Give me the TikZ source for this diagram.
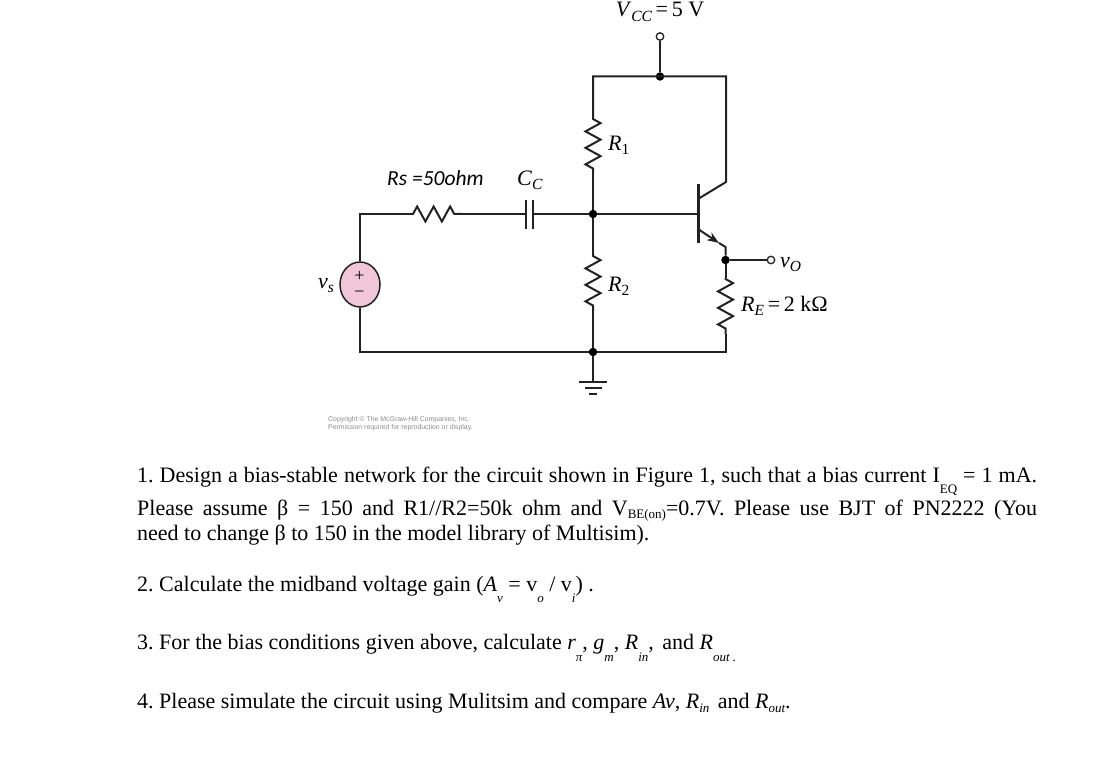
\documentclass[tikz,border=0pt]{standalone}
\usepackage{fontspec}
\setmainfont{Liberation Serif}
\newfontfamily\notefont{Carlito}
\newfontfamily\smallfont{Liberation Sans}
\usetikzlibrary{arrows.meta,decorations.pathmorphing,shapes.geometric}
\definecolor{wirecol}{HTML}{222222}
\definecolor{srcpink}{HTML}{F0C6D8}
\def\lowsub#1#2{\raisebox{-#1pt}{\fontsize{13}{13}\selectfont #2}}
\def\labsub#1#2{\raisebox{-#1pt}{\fontsize{15.5}{15.5}\selectfont #2}}
\frenchspacing
\tikzset{
	wire/.style={draw=wirecol, line width=2pt},
	resistor/.style={wire, line join=miter, decorate, decoration={zigzag, amplitude=7.5pt, segment length=16.5pt, pre length=1pt, post length=1pt}},
	dotnode/.style={circle, fill=black, inner sep=0, minimum size=8.5pt},
	termnode/.style={circle, draw=wirecol, fill=white, line width=1.3pt, inner sep=0, minimum size=7.5pt},
	circuitlabel/.style={inner sep=0, font=\fontsize{22}{22}\selectfont},
	txtline/.style={anchor=base west, inner sep=0, font=\fontsize{22}{22}\selectfont}
}

\begin{document}
\begin{tikzpicture}[x=1pt, y=-1pt]
	\useasboundingbox (0,0) rectangle (1108,767);

	% junctions and terminals
	\node[termnode] (vcc) at (660,36.5) {};
	\node[dotnode] (top) at (660,76.5) {};
	\node[dotnode] (base) at (593,214) {};
	\node[dotnode] (bot) at (593,352) {};
	\node[dotnode] (emit) at (725.5,260) {};
	\node[termnode] (vout) at (771,260) {};
	\coordinate (topl) at (593,76.5);
	\coordinate (topr) at (726,76.5);
	\coordinate (r1a) at (593,118);
	\coordinate (r1b) at (593,173);
	\coordinate (r2a) at (593,255);
	\coordinate (r2b) at (593,311);
	\coordinate (rea) at (725.5,278);
	\coordinate (reb) at (725.5,334);
	\coordinate (botr) at (725.5,352);
	\coordinate (coll) at (726,182);
	\coordinate (collb) at (698,199);
	\coordinate (baseb) at (698,214);
	\coordinate (barup) at (698,184);
	\coordinate (bardn) at (698,243);
	\coordinate (emb) at (698,229);
	\coordinate (emtip) at (719,243);
	\coordinate (emc) at (725.5,247);
	\coordinate (srcl) at (360,214);
	\coordinate (srcb) at (360,352);
	\coordinate (rsa) at (412,214);
	\coordinate (rsb) at (462,214);
	\coordinate (capa) at (525.7,214);
	\coordinate (capb) at (533,214);
	\coordinate (gnd) at (593,382);

	% supply and resistors
	\draw[wire] (vcc) -- (top);
	\draw[wire] (r1a) -- (topl) -- (topr) -- (coll) -- (collb);
	\draw[resistor] (r1a) -- (r1b);
	\draw[wire] (r1b) -- (base);
	\draw[wire] (base) -- (r2a);
	\draw[resistor] (r2a) -- (r2b);
	\draw[wire] (r2b) -- (bot);
	\draw[wire] (emit) -- (rea);
	\draw[resistor] (rea) -- (reb);
	\draw[wire] (reb) -- (botr) -- (bot);
	\draw[wire] (emit) -- (vout);

	% transistor
	\draw[wire, line width=3pt] (barup) -- (bardn);
	\draw[wire] (base) -- (baseb);
	\draw[wire, -{Stealth[length=12pt, width=9pt]}] (emb) -- (emtip);
	\draw[wire] (emtip) -- (emc) -- (emit);

	% input branch
	\node[draw=wirecol, fill=srcpink, line width=1.5pt, ellipse, minimum width=40pt, minimum height=45pt, inner sep=0] (src) at (360,284.5) {};
	\draw[wire] (src) -- (srcl) -- (rsa);
	\draw[resistor] (rsa) -- (rsb);
	\draw[wire] (rsb) -- (capa);
	\draw[wire] (capb) -- (base);
	\draw[wire] (src) -- (srcb) -- (bot);
	\draw[wire, line width=2.4pt] (525.7,200.5) -- (525.7,229);
	\draw[wire, line width=2.4pt] (533,200.5) -- (533,229);
	\node[inner sep=0, font=\fontsize{18}{18}\selectfont] (plus) at (359.5,276) {+};
	\node[inner sep=0, font=\fontsize{18}{18}\selectfont] (minus) at (359.5,294) {\char"2212};

	% ground
	\draw[wire] (bot) -- (gnd);
	\draw[wire, line width=2.2pt] (579,382) -- (607,382);
	\draw[wire, line width=2.2pt] (585,388) -- (602,388);
	\draw[wire, line width=2.6pt] (589,394) -- (597,394);

	% labels
	\node[circuitlabel, anchor=base] (lvcc) at (660,17) {\textit{V}\labsub{5}{\itshape CC}\,=\,5 V};
	\node[circuitlabel, anchor=base west] (lr1) at (608,151) {\textit{R}\labsub{4}{1}};
	\node[circuitlabel, anchor=base west] (lr2) at (608,291) {\textit{R}\labsub{4}{2}};
	\node[circuitlabel, anchor=base west] (lre) at (741,311) {\textit{R}\labsub{5}{\itshape E}\,=\,2 k\char"03A9};
	\node[circuitlabel, anchor=base west] (lvo) at (780,268) {\textit{v}\labsub{4}{\itshape O}};
	\node[circuitlabel, anchor=base west] (lvs) at (318,288) {\textit{v}\labsub{4}{\itshape s}};
	\node[circuitlabel, anchor=base west] (lcc) at (517,186) {\textit{C}\labsub{4}{\itshape C}};
	\node[inner sep=0, anchor=base west, font=\notefont\itshape\fontsize{21.5}{21.5}\selectfont] (lrs) at (387,186) {Rs =50ohm};
	\node[inner sep=0, anchor=base west, text=black!45, font=\smallfont\fontsize{6.9}{6.9}\selectfont] (copy1) at (328,421) {Copyright \char"00A9\ The McGraw-Hill Companies, Inc.};
	\node[inner sep=0, anchor=base west, text=black!45, font=\smallfont\fontsize{6.9}{6.9}\selectfont] (copy2) at (328,429) {Permission required for reproduction or display.};

	% questions
	\node[txtline] (q1) at (137,482) {\makebox[900pt][s]{1. Design a bias-stable network for the circuit shown in Figure 1, such that a bias current I\lowsub{11}{EQ} = 1 mA.}};
	\node[txtline] (q1b) at (137,515) {\makebox[900pt][s]{Please assume β = 150 and  R1//R2=50k ohm and V\lowsub{3}{BE(on)}=0.7V. Please use BJT of PN2222 (You}};
	\node[txtline] (q1c) at (137,540) {need to change β to 150 in the model library of Multisim).};
	\node[txtline] (q2) at (137,591) {2. Calculate the midband voltage gain (\textit{A}\lowsub{11}{\itshape v} = v\lowsub{11}{\itshape o} / v\lowsub{11}{\itshape i}) .};
	\node[txtline] (q3) at (137,649) {3. For the bias conditions given above, calculate \textit{r}\lowsub{12}{\itshape π}, \textit{g}\lowsub{12}{\itshape m}, \textit{R}\lowsub{12}{\itshape in},\kern3pt{} and \textit{R}\lowsub{12}{\itshape out .}};
	\node[txtline] (q4) at (137,708) {4. Please simulate the circuit using Mulitsim and compare \textit{Av}, \textit{R}\lowsub{4}{\itshape in}\kern3pt{} and \textit{R}\lowsub{4}{\itshape out}.};
\end{tikzpicture}
\end{document}
